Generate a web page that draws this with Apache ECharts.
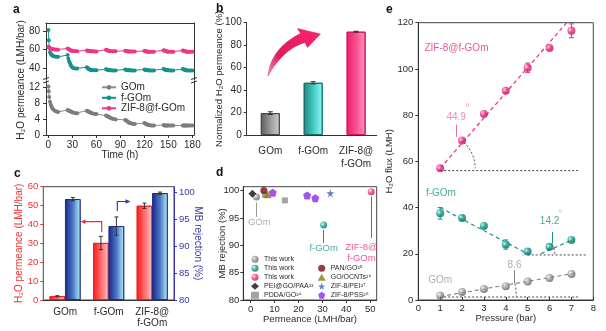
<!DOCTYPE html>
<html><head><meta charset="utf-8">
<script src="https://cdn.jsdelivr.net/npm/echarts@6/dist/echarts.min.js"></script>
<style>html,body{margin:0;padding:0;background:#fff}#c{width:606px;height:331px}</style>
</head><body><div id="c"></div>
<script>
// ---------------- DATA ----------------
// Panel a: long-term permeance (LMH/bar) vs time (h)
const aTimes = [0,0.5,1,2,3,4,5,6,8,10,12,
  24,25,26,27,28,29,30,32,34,36,
  48,49,50,51,52,53,54,56,58,60,
  72,73,74,75,76,77,78,80,82,84,
  96,97,98,99,100,101,102,104,106,108,
  120,121,122,123,124,125,126,128,130,132,
  144,145,146,147,148,149,150,152,154,156,
  168,169,170,171,172,173,174,176,178,180];
const aGOm = [12.2,11.0,9.6,8.4,7.6,7.1,6.7,6.4,6.1,5.9,5.8,
  6.3,6.2,6.1,6.0,5.9,5.8,5.7,5.6,5.5,5.5,
  6.1,6.0,5.9,5.8,5.7,5.6,5.5,5.4,5.3,5.3,
  4.9,4.8,4.7,4.6,4.5,4.4,4.3,4.1,4.0,3.9,
  3.8,3.7,3.5,3.4,3.2,3.1,3.0,2.9,2.8,2.8,
  3.0,2.9,2.8,2.7,2.6,2.6,2.5,2.4,2.4,2.4,
  2.5,2.4,2.4,2.4,2.4,2.4,2.4,2.4,2.4,2.4,
  2.4,2.4,2.4,2.4,2.4,2.4,2.4,2.4,2.4,2.4];
const aFGOm = [81,70,62,57,55,54,53.5,53,52.5,52,52,
  54,50,47,45,43,41.5,40.5,39.8,39.5,39.3,
  40.8,40,39.2,38.6,38.2,37.9,37.7,37.6,37.5,37.5,
  38.6,38.3,38,37.8,37.6,37.5,37.5,37.4,37.4,37.4,
  38.4,38.1,37.9,37.7,37.6,37.5,37.5,37.4,37.4,37.4,
  38.4,38.1,37.9,37.7,37.6,37.5,37.4,37.4,37.3,37.3,
  39.0,38.6,38.2,37.9,37.7,37.6,37.5,37.4,37.4,37.4,
  38.8,38.5,38.1,37.8,37.6,37.5,37.4,37.4,37.3,37.3];
const aZIF = [63,62.3,61.8,61.2,60.8,60.5,60.3,60.1,60,59.9,59.8,
  61,60.4,59.9,59.4,59,58.7,58.5,58.3,58.2,58.2,
  59.0,58.7,58.5,58.3,58.2,58.1,58.0,58.0,57.9,57.9,
  59.6,59.3,59.0,58.7,58.5,58.3,58.2,58.1,58.0,58.0,
  58.6,58.4,58.2,58.0,57.9,57.8,57.8,57.7,57.7,57.7,
  58.4,58.2,58.0,57.8,57.6,57.5,57.5,57.4,57.4,57.4,
  59.2,58.9,58.5,58.2,57.9,57.7,57.6,57.5,57.4,57.4,
  58.9,58.6,58.3,58.0,57.8,57.6,57.5,57.5,57.4,57.4];
const aTimeTicks = [0,30,60,90,120,150,180];
const aTopTicks = [40,60,80];

// Panel b: normalized permeance (%)
const bCategories = ['GOm','f-GOm','ZIF-8@\nf-GOm'];
const bValues = [19.5,46.5,92];
const bErrors = [1.2,1.0,0.4];

// Panel c
const cCategories = ['GOm','f-GOm','ZIF-8@\nf-GOm'];
const cPermeance = [2.0,30.2,49.9];
const cPermErr = [0.3,3.5,1.4];
const cRejection = [98.7,93.7,99.8];
const cRejErr = [0.3,1.7,0.2];
const cRejTicks = [80,85,90,95,100];

// Panel d: [permeance, rejection]
const dThisWorkGOm = [[2.4,98.8]];
const dThisWorkFGOm = [[30.5,93.7]];
const dThisWorkZIF = [[50.4,99.8]];
const dPEI_GO_PAA = [[0.7,99.4]];
const dPDDA_GO = [[6.0,99.2],[14.3,98.2]];
const dPAN_GO = [[5.5,100.0]];
const dGO_OCNTs = [[7.0,99.3]];
const dZIF8_PEI = [[33.3,99.5]];
const dZIF8_PSS = [[9.2,99.6],[23.6,99.1],[27.0,98.6]];
const dXTicks = [0,10,20,30,40,50];
const dYTicks = [80,85,90,95,100];

// Panel e: flux vs pressure
const ePressure = [1,2,3,4,5,6,7];
const eZIF = [57,69,80.5,90.5,100.5,109,116.5];
const eZIFErr = [1,0.6,0.5,0.6,2,0.5,3];
const eFGOm = [37.5,35.5,32,24,21,23,26];
const eFGOmErr = [2.5,1,0.5,2,1,1,0.5];
const eGOm = [2,3.5,4.8,6,8,9.5,11.3];
const eZIFFit = [[1,57],[6.78,120]];
const eFGOmFit1 = [[1,40],[5,20]];
const eFGOmFit2 = [[5.6,20],[7.1,26.3]];
const eGOmFit = [[1,1.5],[7.2,11.7]];
const eZIFBase = [[1,56],[7.3,56]];
const eFGOmBase = [[5,19.5],[7.7,19.5]];
const eGOmBase = [[1,1.3],[7.3,1.3]];

// ---------------- STYLE ----------------
const FONT = "'Liberation Sans', Arial, Helvetica, sans-serif";
const TXT = '#2a2a2a';
const AXC = '#333';
const PINK = '#ec2a82', TEAL = '#17968b', GRAY = '#8a8a8a';
const RED = '#f03030', BLUE = '#3a3aa8';

function lin(stops){return {type:'linear',x:0,y:0,x2:1,y2:0,colorStops:stops.map((c,i)=>({offset:i/(stops.length-1),color:c}))};}
function ball(light,mid,dark){return {type:'radial',x:0.35,y:0.35,r:0.75,colorStops:[{offset:0,color:light},{offset:0.45,color:mid},{offset:1,color:dark}]};}

function mkAxis(o){
  const color = o.color || AXC;
  const ax = {
    type:o.type||'value', gridIndex:o.grid,
    name:o.name, nameLocation:'middle', nameGap:o.nameGap,
    nameMoveOverlap:false,
    nameTextStyle:{fontFamily:FONT,fontSize:o.nameSize||10,color:o.nameColor||TXT},
    axisLine:{show:true,onZero:false,lineStyle:{color:color,width:1}},
    axisTick:{show:o.ticks!==false,inside:!!o.tickInside,length:3,lineStyle:{color:color}},
    axisLabel:{show:o.labels!==false,fontFamily:FONT,fontSize:o.fontSize||10,color:o.labelColor||TXT,
      margin:o.margin==null?5:o.margin,interval:0,hideOverlap:false},
    splitLine:{show:false}, splitArea:{show:false}
  };
  ['position','min','max','interval','data','startValue','nameRotate'].forEach(k=>{if(o[k]!=null) ax[k]=o[k];});
  if(o.tickValues){ax.axisTick.customValues=o.tickValues; ax.axisLabel.customValues=o.tickValues;}
  if(o.formatter) ax.axisLabel.formatter=o.formatter;
  if(o.lineHeight) ax.axisLabel.lineHeight=o.lineHeight;
  return ax;
}

function errRender(offset,cap,color){
  return function(params,api){
    const x=api.value(0), lo=api.value(1), hi=api.value(2);
    const p1=api.coord([x,lo]), p2=api.coord([x,hi]);
    const cx=p1[0]+offset;
    const st={stroke:color,lineWidth:1};
    return {type:'group',children:[
      {type:'line',shape:{x1:cx,y1:p1[1],x2:cx,y2:p2[1]},style:st},
      {type:'line',shape:{x1:cx-cap,y1:p1[1],x2:cx+cap,y2:p1[1]},style:st},
      {type:'line',shape:{x1:cx-cap,y1:p2[1],x2:cx+cap,y2:p2[1]},style:st}
    ]};
  };
}
function arrowML(x,y1,y2,color){
  return {silent:true,symbol:['none','arrow'],symbolSize:[0,5],animation:false,
    label:{show:false},lineStyle:{color:color,width:1,type:'solid'},
    data:[[{coord:[x,y1]},{coord:[x,y2]}]]};
}
function txt(x,y,t,color,size,align){
  return {value:[x,y],label:{show:true,position:'inside',formatter:t,color:color,fontSize:size||10,
    fontFamily:FONT,align:align||'center',verticalAlign:'middle',lineHeight:(size||10)+1}};
}

const chart = echarts.init(document.getElementById('c'));

const grids = [
  {left:46,top:23,width:148,height:57},
  {left:46,top:81,width:148,height:54},
  {left:246.7,top:22.7,width:130,height:112.3},
  {left:43.3,top:186.7,width:130.7,height:113.3,show:true,borderColor:'#444',borderWidth:1},
  {left:243.3,top:186.7,width:133.4,height:113.3,show:true,borderColor:'#444',borderWidth:1},
  {left:418.3,top:22.7,width:175,height:277.3,show:true,borderColor:'#444',borderWidth:1}
].map(g=>Object.assign({outerBoundsMode:'none',containLabel:false},g));

const xAxes = [
  mkAxis({grid:0,min:-3,max:182,position:'top',ticks:false,labels:false}),
  mkAxis({grid:1,min:-3,max:182,tickValues:aTimeTicks,name:'Time (h)',nameGap:15,margin:5}),
  mkAxis({grid:2,min:0.45,max:3.48,tickValues:[1,2,3],ticks:false,margin:10,lineHeight:12.5,
    formatter:v=>bCategories[Math.round(v)-1]}),
  mkAxis({grid:3,type:'category',data:cCategories,ticks:false,margin:7,lineHeight:11}),
  mkAxis({grid:4,min:-3.1,max:52.7,tickValues:dXTicks,name:'Permeance (LMH/bar)',nameGap:14,margin:4,fontSize:9.5,nameSize:9.5}),
  mkAxis({grid:5,min:0,max:8,interval:1,name:'Pressure (bar)',nameGap:13,margin:3,tickInside:true,fontSize:9.5,nameSize:9.5})
];
const yAxes = [
  mkAxis({grid:0,min:27,max:88.6,tickValues:aTopTicks,margin:6}),
  mkAxis({grid:0,min:27,max:88.6,position:'right',ticks:false,labels:false}),
  mkAxis({grid:1,min:0,max:13.6,interval:4,margin:6}),
  mkAxis({grid:1,min:0,max:13.6,position:'right',ticks:false,labels:false}),
  mkAxis({grid:2,min:0,max:100,interval:20,name:'Normalized H\u2082O permeance (%)',nameGap:22,margin:5,nameSize:9.5}),
  mkAxis({grid:3,min:0,max:60,interval:10,color:RED,labelColor:RED,nameColor:RED,name:'H\u2082O permeance (LMH/bar)',nameGap:19,margin:5,fontSize:9.5}),
  mkAxis({grid:3,min:80,max:101,startValue:80,position:'right',tickValues:cRejTicks,color:BLUE,labelColor:BLUE,nameColor:BLUE,name:'MB rejection (%)',nameRotate:-90,nameGap:19,margin:5,fontSize:9.5}),
  mkAxis({grid:4,min:80,max:100.7,tickValues:dYTicks,name:'MB rejection (%)',nameGap:16,margin:4,fontSize:9.5,nameSize:9.5}),
  mkAxis({grid:5,min:0,max:120,interval:20,name:'H\u2082O flux (LMH)',nameGap:24,margin:5,fontSize:9.5,nameSize:9.5})
];

const bGrad = [lin(['#5c5c5c','#9a9a9a','#cfcfcf']), lin(['#1d8a82','#46c6c0','#8cffff']), lin(['#ef1d69','#f8508e','#ff95c2'])];
const bBorder = ['#4a4a4a','#1b6f69','#cc1a5c'];

const series = [
  // ---- a ----
  {name:'GOm',type:'line',xAxisIndex:1,yAxisIndex:2,data:aTimes.map((t,i)=>[t,aGOm[i]]),
   symbol:'circle',symbolSize:4,itemStyle:{color:'#7d7d7d'},lineStyle:{color:'#8d8d8d',width:1}},
  {name:'f-GOm',type:'line',xAxisIndex:0,yAxisIndex:0,data:aTimes.map((t,i)=>[t,aFGOm[i]]),
   symbol:'circle',symbolSize:4,itemStyle:{color:'#15938a'},lineStyle:{color:'#15938a',width:1}},
  {name:'ZIF-8@f-GOm',type:'line',xAxisIndex:0,yAxisIndex:0,data:aTimes.map((t,i)=>[t,aZIF[i]]),
   symbol:'circle',symbolSize:4,itemStyle:{color:'#f0348a'},lineStyle:{color:'#f0348a',width:1}},
  // ---- b ----
  {name:'bBars',type:'bar',xAxisIndex:2,yAxisIndex:4,barWidth:19,
   data:bValues.map((v,i)=>({value:[i+1,v],itemStyle:{color:bGrad[i],borderColor:bBorder[i],borderWidth:1}}))},
  {name:'bErr',type:'custom',xAxisIndex:2,yAxisIndex:4,renderItem:errRender(0,2.5,'#333'),
   data:bValues.map((v,i)=>[i+1,v-bErrors[i],v+bErrors[i]]),encode:{x:0,y:[1,2]},z:5},
  // ---- c ----
  {name:'cPerm',type:'bar',xAxisIndex:3,yAxisIndex:5,data:cPermeance,barWidth:15.5,barGap:'0%',
   itemStyle:{color:lin(['#ff1818','#ff6a6a','#ffc4c4']),borderColor:'#e81a1a',borderWidth:0.8}},
  {name:'cRej',type:'bar',xAxisIndex:3,yAxisIndex:6,data:cRejection,barWidth:15.5,barGap:'0%',clip:true,
   itemStyle:{color:lin(['#172a8a','#4c74c4','#aef6fa']),borderColor:'#1c2a86',borderWidth:0.8}},
  {name:'cPermErr',type:'custom',xAxisIndex:3,yAxisIndex:5,renderItem:errRender(-7.75,2,'#333'),
   data:cPermeance.map((v,i)=>[i,v-cPermErr[i],v+cPermErr[i]]),encode:{x:0,y:[1,2]},z:5},
  {name:'cRejErr',type:'custom',xAxisIndex:3,yAxisIndex:6,renderItem:errRender(7.75,2,'#333'),
   data:cRejection.map((v,i)=>[i,v-cRejErr[i],v+cRejErr[i]]),encode:{x:0,y:[1,2]},z:5},
  // ---- d ----
  {name:'This work',type:'scatter',xAxisIndex:4,yAxisIndex:7,data:dThisWorkGOm,symbolSize:7,
   itemStyle:{color:ball('#e8e8e8','#9a9a9a','#555')},markLine:arrowML(2.4,95.2,97.8,'#999')},
  {name:'This work ',type:'scatter',xAxisIndex:4,yAxisIndex:7,data:dThisWorkFGOm,symbolSize:7,
   itemStyle:{color:ball('#c8fff8','#1aa396','#0b5e56')},markLine:arrowML(30.5,90.4,92.8,TEAL)},
  {name:'This work  ',type:'scatter',xAxisIndex:4,yAxisIndex:7,data:dThisWorkZIF,symbolSize:7,
   itemStyle:{color:ball('#ffe0ef','#f2368c','#b20f58')},markLine:arrowML(50.4,91.3,98.9,PINK)},
  {name:'PEI@GO/PAA\u00b2\u00b3',type:'scatter',xAxisIndex:4,yAxisIndex:7,data:dPEI_GO_PAA,symbol:'diamond',symbolSize:8,itemStyle:{color:'#111'}},
  {name:'PDDA/GO\u00b2\u2074',type:'scatter',xAxisIndex:4,yAxisIndex:7,data:dPDDA_GO,symbol:'rect',symbolSize:6,itemStyle:{color:'#8c8c8c'}},
  {name:'PAN/GO\u00b2\u2075',type:'scatter',xAxisIndex:4,yAxisIndex:7,data:dPAN_GO,symbol:'circle',symbolSize:7,itemStyle:{color:'#7a0c0c'}},
  {name:'GO/OCNTs\u00b2\u2076',type:'scatter',xAxisIndex:4,yAxisIndex:7,data:dGO_OCNTs,symbol:'triangle',symbolSize:8,itemStyle:{color:'#8a7a10'}},
  {name:'ZIF-8/PEI\u00b2\u2077',type:'scatter',xAxisIndex:4,yAxisIndex:7,data:dZIF8_PEI,
   symbol:'path://M50,0 L61,35 L98,35 L68,57 L79,91 L50,70 L21,91 L32,57 L2,35 L39,35 Z',symbolSize:8,itemStyle:{color:'#2f62b8'}},
  {name:'ZIF-8/PSS\u00b2\u2078',type:'scatter',xAxisIndex:4,yAxisIndex:7,data:dZIF8_PSS,
   symbol:'path://M50,0 L96,33 L79,92 L21,92 L4,33 Z',symbolSize:8,itemStyle:{color:'#8a2be2'}},
  {name:'dNotes',type:'scatter',xAxisIndex:4,yAxisIndex:7,symbolSize:0,itemStyle:{color:'transparent'},silent:true,
   data:[txt(3.6,94.1,'GOm','#999',9.5),txt(30.5,89.4,'f-GOm',TEAL,9.5),txt(46.3,88.6,'ZIF-8@\nf-GOm',PINK,9.5)]},
  // ---- e ----
  {name:'eZIFBase',type:'line',xAxisIndex:5,yAxisIndex:8,data:eZIFBase,symbol:'none',lineStyle:{color:'#444',width:1,type:[2,2]}},
  {name:'eFGOmBase',type:'line',xAxisIndex:5,yAxisIndex:8,data:eFGOmBase,symbol:'none',lineStyle:{color:'#444',width:1,type:[2,2]}},
  {name:'eGOmBase',type:'line',xAxisIndex:5,yAxisIndex:8,data:eGOmBase,symbol:'none',lineStyle:{color:'#444',width:1,type:[2,2]}},
  {name:'eZIFFit',type:'line',xAxisIndex:5,yAxisIndex:8,data:eZIFFit,symbol:'none',lineStyle:{color:PINK,width:1.2,type:[4,3]}},
  {name:'eFGOmFit1',type:'line',xAxisIndex:5,yAxisIndex:8,data:eFGOmFit1,symbol:'none',lineStyle:{color:TEAL,width:1.2,type:[4,3]}},
  {name:'eFGOmFit2',type:'line',xAxisIndex:5,yAxisIndex:8,data:eFGOmFit2,symbol:'none',lineStyle:{color:TEAL,width:1.2,type:[4,3]}},
  {name:'eGOmFit',type:'line',xAxisIndex:5,yAxisIndex:8,data:eGOmFit,symbol:'none',lineStyle:{color:GRAY,width:1.2,type:[4,3]}},
  {name:'eZIFErr',type:'custom',xAxisIndex:5,yAxisIndex:8,renderItem:errRender(0,2.5,PINK),
   data:ePressure.map((p,i)=>[p,eZIF[i]-eZIFErr[i],eZIF[i]+eZIFErr[i]]),encode:{x:0,y:[1,2]},z:3},
  {name:'eFGOmErr',type:'custom',xAxisIndex:5,yAxisIndex:8,renderItem:errRender(0,2.5,TEAL),
   data:ePressure.map((p,i)=>[p,eFGOm[i]-eFGOmErr[i],eFGOm[i]+eFGOmErr[i]]),encode:{x:0,y:[1,2]},z:3},
  {name:'eZIF',type:'scatter',xAxisIndex:5,yAxisIndex:8,data:ePressure.map((p,i)=>[p,eZIF[i]]),symbolSize:8,z:5,
   itemStyle:{color:ball('#ffd6ea','#ee2c85','#b0105a')},markLine:arrowML(1.73,70.6,75.9,'#f06aa8')},
  {name:'eFGOm',type:'scatter',xAxisIndex:5,yAxisIndex:8,data:ePressure.map((p,i)=>[p,eFGOm[i]]),symbolSize:8,z:5,
   itemStyle:{color:ball('#c8fff6','#179a8e','#0a5b53')},markLine:arrowML(6.13,24.5,29.5,TEAL)},
  {name:'eGOm',type:'scatter',xAxisIndex:5,yAxisIndex:8,data:ePressure.map((p,i)=>[p,eGOm[i]]),symbolSize:8,z:5,
   itemStyle:{color:ball('#eeeeee','#9a9a9a','#555555')},markLine:arrowML(4.37,7.2,13,'#888')},
  {name:'eNotes',type:'scatter',xAxisIndex:5,yAxisIndex:8,symbolSize:0,itemStyle:{color:'transparent'},silent:true,
   data:[txt(0.28,109,'ZIF-8@f-GOm',PINK,10,'left'),txt(0.35,46,'f-GOm',TEAL,10,'left'),txt(0.45,8.6,'GOm','#999',10,'left'),
     txt(1.73,79,'44.9','#f06aa8',10),txt(2.25,82.8,'\u00b0','#f06aa8',10),
     txt(6.0,33.9,'14.2',TEAL,10),txt(6.5,37.2,'\u00b0','#7cc',10),
     txt(4.4,15.1,'8.6','#999',10),txt(4.8,18.6,'\u00b0','#aaa',10)]}
];

const legends = [
  {selectedMode:false,orient:'vertical',padding:0,data:['GOm','f-GOm','ZIF-8@f-GOm'],left:101,top:82.3,itemWidth:14,itemHeight:6,itemGap:0.5,
    textStyle:{fontFamily:FONT,color:TXT,fontSize:10,lineHeight:10}},
  {selectedMode:false,orient:'vertical',padding:0,data:['This work','This work ','This work  ','PEI@GO/PAA\u00b2\u00b3','PDDA/GO\u00b2\u2074'],
    left:251,top:254.8,itemWidth:8,itemHeight:7,itemGap:0,textStyle:{fontFamily:FONT,color:TXT,fontSize:7,lineHeight:9}},
  {selectedMode:false,orient:'vertical',padding:0,data:['PAN/GO\u00b2\u2075','GO/OCNTs\u00b2\u2076','ZIF-8/PEI\u00b2\u2077','ZIF-8/PSS\u00b2\u2078'],
    left:317.7,top:263.8,itemWidth:8,itemHeight:7,itemGap:0,textStyle:{fontFamily:FONT,color:TXT,fontSize:7,lineHeight:9}}
];

// curved arrow outline (decoration) as polygon points sampled from quadratic curves
function quad(p0,p1,p2,n){const out=[];for(let i=0;i<=n;i++){const t=i/n,u=1-t;out.push([u*u*p0[0]+2*u*t*p1[0]+t*t*p2[0],u*u*p0[1]+2*u*t*p1[1]+t*t*p2[1]]);}return out;}
const arrowPts = [].concat(quad([268,76],[271,48],[300.5,33.5],16),[[297.5,28.5],[320.5,34],[307.5,47.5],[305,42.5]],quad([305,42.5],[283,49],[268,76],16));

function label(id,x,y,t){return {id:id,type:'text',x:x,y:y,style:{text:t,fontFamily:FONT,fontSize:12,fontWeight:'bold',fill:'#111'}};}
const G = [
  label('la',13,4,'a'),label('lb',216,3,'b'),label('lc',14,168,'c'),label('ld',216,167,'d'),label('le',386,4,'e'),
  {id:'aTitle',type:'text',x:21,y:80,rotation:Math.PI/2,style:{text:'H\u2082O permeance (LMH/bar)',fontFamily:FONT,fontSize:10,fill:TXT,align:'center',verticalAlign:'middle'}},
  {id:'brk1',type:'polyline',shape:{points:[[43,79.5],[49,77.5]]},style:{stroke:'#333',lineWidth:1}},
  {id:'brk2',type:'polyline',shape:{points:[[43,83],[49,81]]},style:{stroke:'#333',lineWidth:1}},
  {id:'brk3',type:'polyline',shape:{points:[[191,79.5],[197,77.5]]},style:{stroke:'#333',lineWidth:1}},
  {id:'brk4',type:'polyline',shape:{points:[[191,83],[197,81]]},style:{stroke:'#333',lineWidth:1}},
  {id:'bArrow',type:'polygon',shape:{points:arrowPts},
   style:{fill:{type:'linear',x:0,y:1,x2:1,y2:0,colorStops:[{offset:0,color:'#f7a0c4'},{offset:0.3,color:'#e0195e'},{offset:1,color:'#ff2470'}]},stroke:'#c0104c',lineWidth:0.4}},
  {id:'cRedArrow',type:'polyline',shape:{points:[[101.7,232],[101.7,221.7],[84,221.7]]},style:{stroke:RED,lineWidth:1.2,fill:null}},
  {id:'cRedHead',type:'polygon',shape:{points:[[80.5,221.7],[85.5,219.5],[85.5,223.9]]},style:{fill:RED}},
  {id:'cBlueArrow',type:'polyline',shape:{points:[[117.3,211],[117.3,201.5],[127,201.5]]},style:{stroke:BLUE,lineWidth:1.2,fill:null}},
  {id:'cBlueHead',type:'polygon',shape:{points:[[130.5,201.5],[125.5,199.3],[125.5,203.7]]},style:{fill:BLUE}}
];

chart.setOption({
  animation:false, backgroundColor:'#fff',
  textStyle:{fontFamily:FONT},
  grid:grids, xAxis:xAxes, yAxis:yAxes, series:series, legend:legends,
  graphic:{elements:G}
});

function px(v){return chart.convertToPixel({xAxisIndex:5,yAxisIndex:8},v);}
const arcs = [
  {c:px(eZIFFit[0]),r:35,a:-0.83},
  {c:px(eFGOmFit2[0]),r:14,a:-0.42},
  {c:px(eGOmFit[0]),r:76,a:-0.17}
].map((o,i)=>({id:'arc'+i,type:'arc',shape:{cx:o.c[0],cy:o.c[1],r:o.r,startAngle:o.a,endAngle:0,clockwise:true},
  style:{stroke:'#444',lineWidth:1,lineDash:[2,2],fill:null}}));
chart.setOption({graphic:{elements:arcs}});
</script></body></html>
